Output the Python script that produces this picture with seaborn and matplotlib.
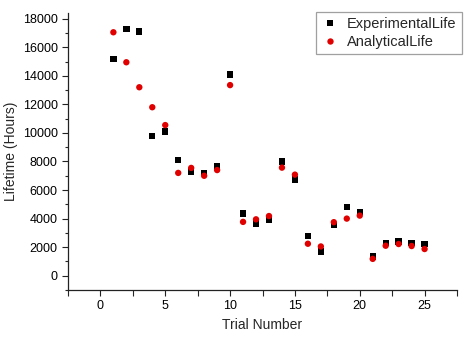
import matplotlib
matplotlib.use("Agg")
import matplotlib.pyplot as plt
import seaborn as sns
import pandas as pd
from matplotlib.ticker import MultipleLocator

trials = list(range(1, 26))
experimental_life = [15200, 17300, 17100, 9800, 10100, 8100, 7300, 7200, 7700, 14100,
                     4350, 3650, 3900, 8000, 6750, 2800, 1700, 3550, 4800, 4450,
                     1350, 2300, 2400, 2300, 2200]
analytical_life = [17050, 14950, 13200, 11800, 10550, 7200, 7550, 7000, 7400, 13350,
                   3770, 3950, 4180, 7570, 7080, 2240, 2050, 3750, 4000, 4210,
                   1180, 2100, 2220, 2080, 1870]
series_names = ["ExperimentalLife", "AnalyticalLife"]

sns.set_theme(style="ticks")
plt.rcParams['font.family'] = ['Liberation Sans', 'DejaVu Sans']

df = pd.DataFrame({"Trial": trials,
                   series_names[0]: experimental_life,
                   series_names[1]: analytical_life})
long = df.melt(id_vars="Trial", var_name="Series", value_name="Lifetime")

fig = plt.figure(figsize=(4.74, 3.39), dpi=100)
ax = fig.add_axes([68/474, 1 - 290/339, (457-68)/474, (290-13)/339])

sns.scatterplot(data=long, x="Trial", y="Lifetime", hue="Series", style="Series",
                hue_order=series_names, style_order=series_names,
                palette={series_names[0]: "black", series_names[1]: "#e00000"},
                markers={series_names[0]: "s", series_names[1]: "o"},
                s=21, linewidth=0, ax=ax, legend=True)

ax.set_xlim(-2.5, 27.5)
ax.set_ylim(-1000, 18400)
ax.xaxis.set_major_locator(MultipleLocator(5))
ax.xaxis.set_minor_locator(MultipleLocator(2.5))
ax.yaxis.set_major_locator(MultipleLocator(2000))
ax.yaxis.set_minor_locator(MultipleLocator(1000))
ax.tick_params(axis='both', which='major', labelsize=9, direction='out', length=4, width=0.8, colors='#222222', labelcolor='black')
ax.tick_params(axis='y', which='minor', direction='out', length=2.5, width=0.8)
ax.tick_params(axis='x', which='minor', direction='out', length=4, width=0.8)
for sp in ['top', 'right']:
    ax.spines[sp].set_visible(False)
for sp in ['left', 'bottom']:
    ax.spines[sp].set_linewidth(0.9)
    ax.spines[sp].set_color('#222222')

ax.set_xlabel("Trial Number", fontsize=10)
ax.set_ylabel("Lifetime (Hours)", fontsize=10, labelpad=3)

leg = ax.legend(loc='upper right', bbox_to_anchor=(469/474, 1 - 5/339),
                bbox_transform=fig.transFigure, fontsize=10.5, frameon=True,
                fancybox=False, edgecolor='#888888', borderpad=0.35,
                handletextpad=0.6, labelspacing=0.25, handlelength=1.2,
                markerscale=1.0)
leg.get_frame().set_linewidth(0.9)

fig.savefig("out.png", dpi=100)
